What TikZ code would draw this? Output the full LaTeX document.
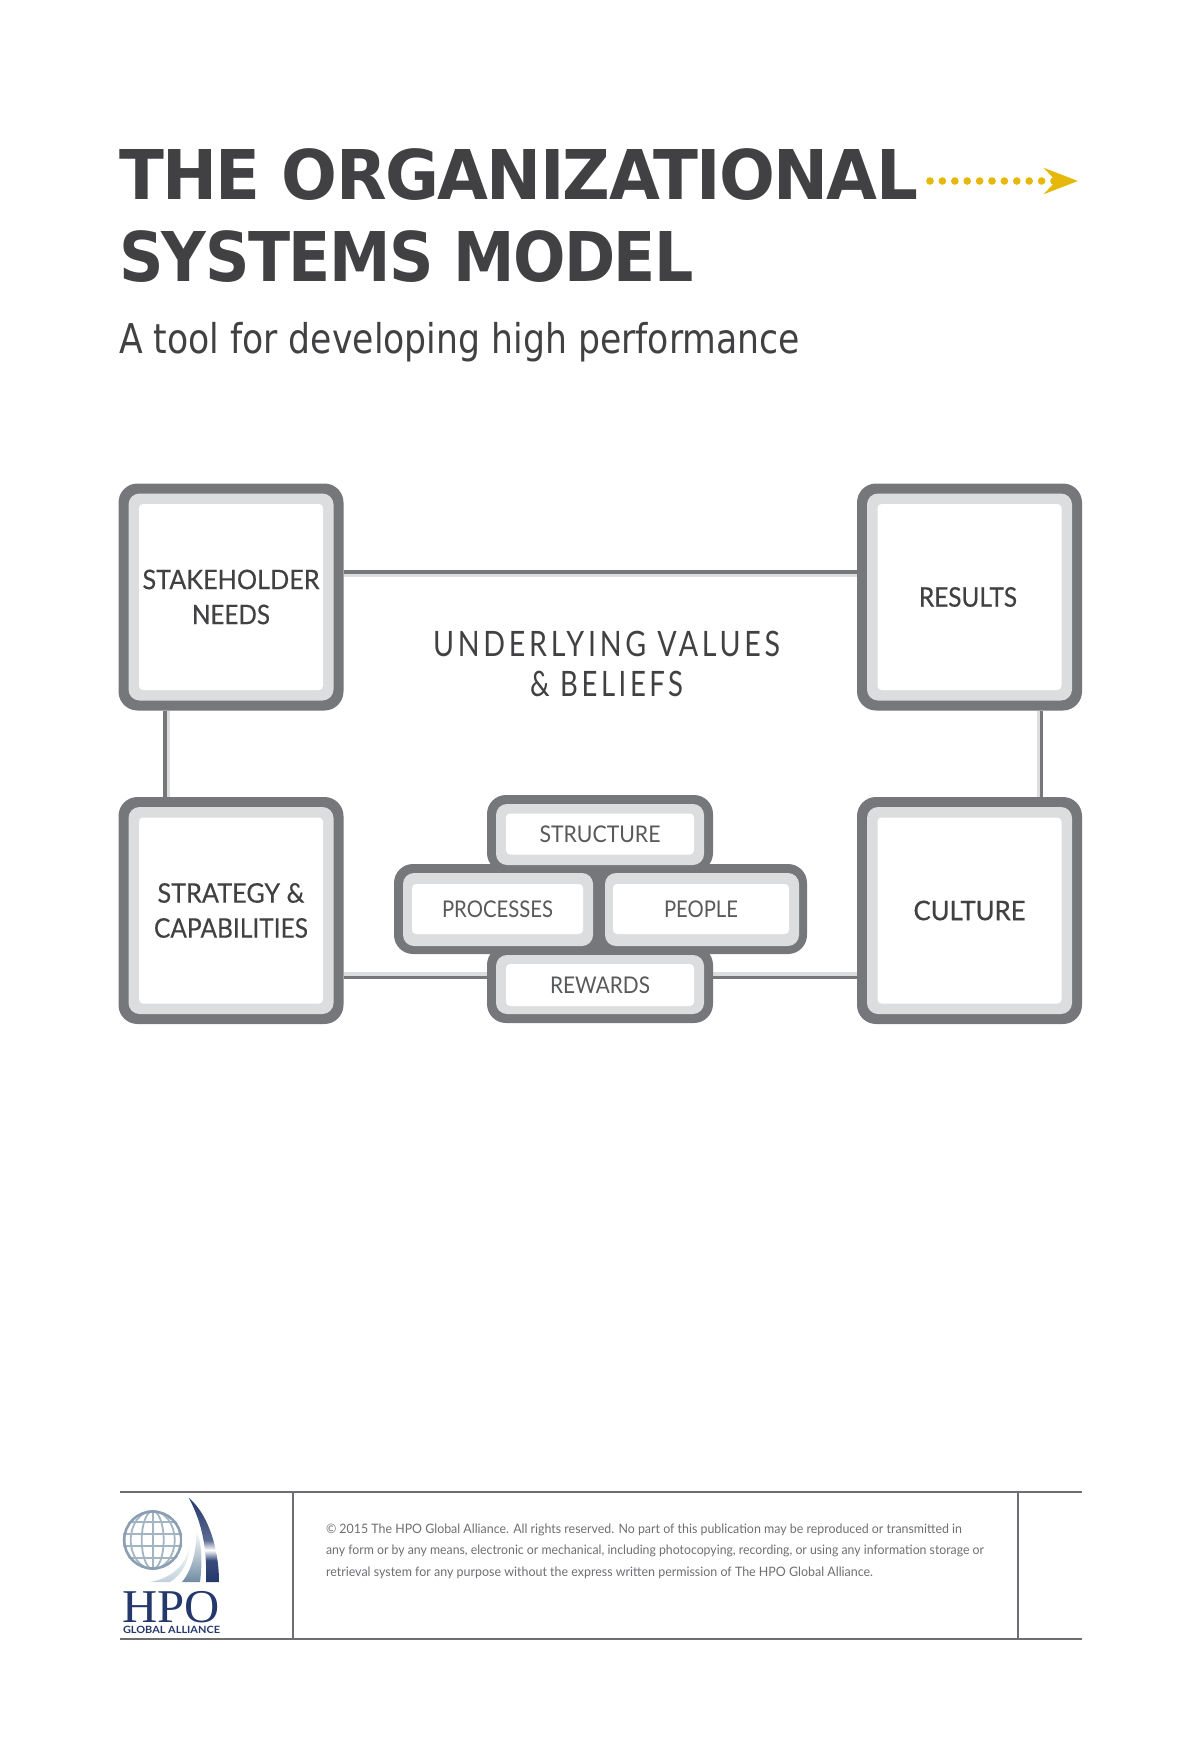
\documentclass[tikz,border=0pt]{standalone}
\usepackage{fontspec}
\usepackage{graphicx}
\usetikzlibrary{arrows.meta,backgrounds}
\setmainfont{Lato}
\newfontfamily\titlefont[BoldFont={DejaVu Sans Bold},LetterSpace=-2.5]{DejaVu Sans}
\newfontfamily\subfont{DejaVu Sans}
\newfontfamily\gillfont{Lato}
\newfontfamily\gillsemi[FakeBold=0.3]{Lato}
\newfontfamily\gillmed[FakeBold=0.6]{Lato}
\newfontfamily\gillwide[LetterSpace=13]{Lato}
\newfontfamily\hposerif{Liberation Serif}
\definecolor{rim}{HTML}{76777A}
\definecolor{band}{HTML}{DCDDDE}
\definecolor{ink}{HTML}{414042}
\definecolor{thinink}{HTML}{58595B}
\definecolor{footink}{HTML}{6D6E71}
\definecolor{amber}{HTML}{E6B80C}
\definecolor{navy}{HTML}{24386C}
\definecolor{globeblue}{HTML}{A3B4C3}
\definecolor{globeedge}{HTML}{8C9FB2}
\definecolor{sailmid}{HTML}{6F8CA3}
\definecolor{saillight}{HTML}{C3D1DB}
\pgfdeclareverticalshading{sailshade}{100bp}{color(0bp)=(navy); color(25bp)=(navy); color(38bp)=(navy!90); color(44bp)=(white); color(50bp)=(navy!75); color(75bp)=(navy); color(100bp)=(navy)}
\newsavebox\fitbox
\newcommand{\fitx}[2]{\sbox\fitbox{#2}\pgfmathsetmacro\fitscale{#1/\the\wd\fitbox}\scalebox{\fitscale}[1]{\usebox\fitbox}}
\tikzset{
  every node/.style={inner sep=0pt,outer sep=0pt},
  rimbox/.style={fill=rim,rounded corners=19pt,minimum width=#1},
  bandbox/.style={fill=band,rounded corners=11pt},
  whitebox/.style={fill=white,rounded corners=4pt,align=center},
  bigtext/.style={font=\gillsemi\fontsize{27}{35}\selectfont,text=ink},
  midtext/.style={font=\gillmed\fontsize{27}{35}\selectfont,text=ink},
  smalltext/.style={font=\gillfont\fontsize{23}{28}\selectfont,text=thinink},
  linkdark/.style={draw=rim,line width=3.2pt},
  linklight/.style={draw=band,line width=3.6pt},
  footrule/.style={draw=footink,line width=2pt},
  footside/.style={draw=footink,line width=1.5pt},
  foottext/.style={anchor=base west,font=\gillfont\fontsize{13}{13}\selectfont,text=footink},
  globeline/.style={draw=globeblue,line width=1.8pt},
}
\begin{document}
\begin{tikzpicture}[x=1pt,y=-1pt]
\useasboundingbox (0,0) rectangle (1200,1760);
% titles
\node[anchor=base west,font=\titlefont\bfseries\fontsize{68.6}{68.6}\selectfont,text=ink] (title1) at (119,200) {\fitx{799}{THE ORGANIZATIONAL}};
\node[anchor=base west,font=\titlefont\bfseries\fontsize{68.6}{68.6}\selectfont,text=ink] (title2) at (119,282) {\fitx{575}{SYSTEMS MODEL}};
\node[anchor=base west,font=\subfont\fontsize{41}{41}\selectfont,text=ink] (subtitle) at (119,353) {\fitx{681}{A tool for developing high performance}};
\coordinate (arrowstart) at (930,181);
\coordinate (arrowtip) at (1078,181);
\draw[amber,line width=7.6pt,line cap=round,dash pattern=on 0pt off 12.4pt,-{Stealth[length=34pt,width=26pt,inset=12pt]}] (arrowstart) -- (arrowtip);
% four corner boxes
\node[rimbox=225pt,minimum height=227pt] (stake) at (231,597) {};
\node[bandbox,minimum width=205pt,minimum height=207pt] (stakeband) at (stake) {};
\node[whitebox,bigtext,minimum width=184pt,minimum height=186pt] (staketext) at (stake) {\fitx{177}{STAKEHOLDER}\\\fitx{78}{NEEDS}};
\node[rimbox=225pt,minimum height=227pt] (strategy) at (231,910.5) {};
\node[bandbox,minimum width=205pt,minimum height=207pt] (strategyband) at (strategy) {};
\node[whitebox,bigtext,minimum width=184pt,minimum height=186pt] (strategytext) at (strategy) {\fitx{147}{STRATEGY \&}\\\fitx{154}{CAPABILITIES}};
\node[rimbox=225pt,minimum height=227pt] (results) at (969.5,597) {};
\node[bandbox,minimum width=205pt,minimum height=207pt] (resultsband) at (results) {};
\node[whitebox,midtext,minimum width=184pt,minimum height=186pt] (resultstext) at (results) {\hspace*{-3pt}\fitx{98}{RESULTS}};
\node[rimbox=225pt,minimum height=227pt] (culture) at (969.5,910.5) {};
\node[bandbox,minimum width=205pt,minimum height=207pt] (cultureband) at (culture) {};
\node[whitebox,midtext,minimum width=184pt,minimum height=186pt] (culturetext) at (culture) {\fitx{112}{CULTURE}};
% connectors
\begin{scope}[on background layer]
\draw[linklight] ([yshift=21.5pt]stake.east) -- ([yshift=21.5pt]results.west);
\draw[linkdark] ([yshift=25pt]stake.east) -- ([yshift=25pt]results.west);
\draw[linklight] ([xshift=-62.5pt]stake.south) -- ([xshift=-62.5pt]strategy.north);
\draw[linkdark] ([xshift=-66pt]stake.south) -- ([xshift=-66pt]strategy.north);
\draw[linklight] ([xshift=69.5pt]results.south) -- ([xshift=69.5pt]culture.north);
\draw[linkdark] ([xshift=72pt]results.south) -- ([xshift=72pt]culture.north);
\draw[linklight] ([yshift=-63.5pt]strategy.east) -- ([yshift=-63.5pt]culture.west);
\draw[linkdark] ([yshift=-67pt]strategy.east) -- ([yshift=-67pt]culture.west);
\end{scope}
% centre text
\node[font=\gillwide\fontsize{35}{39.5}\selectfont,text=ink,align=center] (values) at (606.5,664) {\fitx{347}{UNDERLYING VALUES}\\\fitx{153}{\&\ BELIEFS}};
% bricks
\node[rimbox=226pt,minimum height=77pt] (structure) at (600,833.5) {};
\node[rimbox=226pt,minimum height=77pt] (rewards) at (600,984.5) {};
\node[rimbox=413pt,minimum height=90pt] (group) at (600.5,909) {};
\node[bandbox,minimum width=208pt,minimum height=61pt] (structureband) at (600,834.5) {};
\node[bandbox,minimum width=208pt,minimum height=59pt] (rewardsband) at (600,984.5) {};
\node[bandbox,minimum width=190pt,minimum height=73pt] (processesband) at (498,909.5) {};
\node[bandbox,minimum width=194pt,minimum height=73pt] (peopleband) at (702,909.5) {};
\node[whitebox,smalltext,minimum width=188pt,minimum height=41pt] (structuretext) at (600,834) {\fitx{121}{STRUCTURE}};
\node[whitebox,smalltext,minimum width=188pt,minimum height=42pt] (rewardstext) at (600,985) {\fitx{100}{REWARDS}};
\node[whitebox,smalltext,minimum width=171pt,minimum height=50pt] (processestext) at (497.5,909) {\fitx{111}{PROCESSES}};
\node[whitebox,smalltext,minimum width=176pt,minimum height=50pt] (peopletext) at (701,909) {\fitx{74}{PEOPLE}};
% footer
\coordinate (ruleTL) at (120,1492);
\coordinate (ruleTR) at (1082,1492);
\coordinate (ruleBL) at (120,1639);
\coordinate (ruleBR) at (1082,1639);
\coordinate (sideAT) at (293,1492);
\coordinate (sideAB) at (293,1639);
\coordinate (sideBT) at (1018,1492);
\coordinate (sideBB) at (1018,1639);
\draw[footrule] (ruleTL) -- (ruleTR);
\draw[footrule] (ruleBL) -- (ruleBR);
\draw[footside] (sideAT) -- (sideAB);
\draw[footside] (sideBT) -- (sideBB);
\node[foottext] (foot1) at (326,1533) {\fitx{636}{© 2015 The HPO Global Alliance. All rights reserved. No part of this publication may be reproduced or transmitted in}};
\node[foottext] (foot2) at (326,1554) {\fitx{658}{any form or by any means, electronic or mechanical, including photocopying, recording, or using any information storage or}};
\node[foottext] (foot3) at (326,1576) {\fitx{547}{retrieval system for any purpose without the express written permission of The HPO Global Alliance.}};
% logo
\begin{scope}
\clip (152.7,1540) circle (30);
\foreach \rx in {0,11,22} {\draw[globeline] (152.7,1540) ellipse ({\rx} and 29);}
\foreach \yy in {-18,-6,6,18} {\draw[globeline] (120,1540+\yy) -- (186,1540+\yy);}
\draw[draw=globeedge,line width=2.6pt] (152.7,1540) circle (28.5);
\end{scope}
\shade[shading=sailshade] (189,1498) .. controls (209,1515) and (219,1550) .. (219,1582) -- (206,1582) .. controls (207,1550) and (203,1525) .. (189,1498) -- cycle;
\shade[top color=white,bottom color=sailmid] (196,1530) .. controls (197,1550) and (192,1570) .. (182,1582) -- (200,1582) .. controls (203,1560) and (201,1540) .. (196,1530) -- cycle;
\shade[top color=white,bottom color=saillight] (190,1543) .. controls (187,1565) and (172,1578) .. (150,1582) -- (170,1582) .. controls (182,1575) and (190,1560) .. (190,1543) -- cycle;
\node[anchor=base west,font=\hposerif\fontsize{47}{47}\selectfont,text=navy] (hpo) at (122.5,1622) {\fitx{97.5}{HPO}};
\node[anchor=base west,font=\gillfont\bfseries\fontsize{10}{10}\selectfont,text=navy] (alliance) at (123,1633) {\fitx{97}{GLOBAL ALLIANCE}};
\end{tikzpicture}
\end{document}
